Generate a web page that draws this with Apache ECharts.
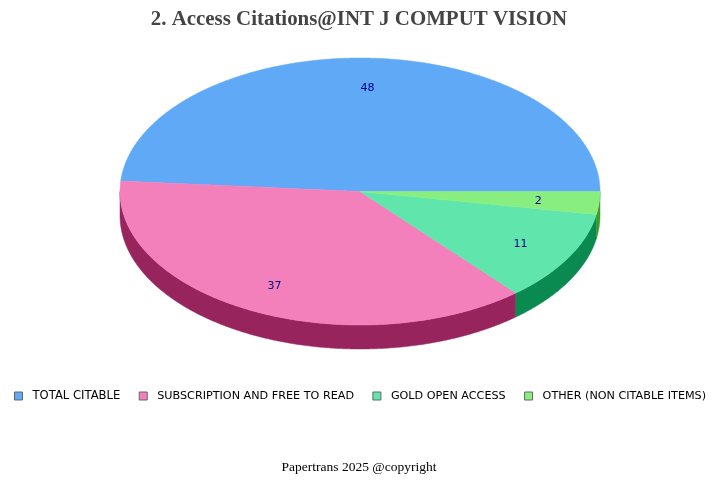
<!DOCTYPE html>
<html><head><meta charset="utf-8">
<style>html,body{margin:0;padding:0;background:#fff}#c{width:720px;height:480px}</style>
<script src="https://cdn.jsdelivr.net/npm/echarts@6/dist/echarts.min.js"></script>
</head><body><div id="c"></div>
<script>
const categories = ['TOTAL CITABLE','SUBSCRIPTION AND FREE TO READ','GOLD OPEN ACCESS','OTHER (NON CITABLE ITEMS)'];
const shares = [48.75, 37.5, 11, 2.75];
const valueLabels = ['48','37','11','2'];
const topColors = ['#5FA9F6','#F480BB','#60E6AC','#88EE80'];
const sideColors = ['#2F6FB5','#98245E','#0A8A50','#3A9A2A'];
const titleText = '2. Access Citations@INT J COMPUT VISION';
const footerText = 'Papertrans 2025 @copyright';

const cx = 360, cy = 191.5, rx = 240, ry = 133.5, depth = 24;
const labelRadii = [0.785, 0.785, 0.77, 0.745];
const legendFontSizes = [11.6, 11.2, 11.2, 11.2];
const total = shares.reduce((a,b)=>a+b,0);
const pt = (deg, k=1, dy=0) => {
  const t = deg*Math.PI/180;
  return [cx + rx*k*Math.cos(t), cy - ry*k*Math.sin(t) + dy];
};
const arc = (a, b, dy=0) => {
  const n = Math.max(2, Math.ceil(Math.abs(b-a)*2)), out = [];
  for (let i=0;i<=n;i++) out.push(pt(a+(b-a)*i/n, 1, dy));
  return out;
};
let acc = 0;
const spans = shares.map(s => { const a = acc/total*360; acc += s; return [a, acc/total*360]; });

const wallSeries = {
  type:'custom', coordinateSystem:'none', silent:true, z:1, animation:false,
  data: spans.map((s,i)=>({value:[s[0],s[1],i]})),
  renderItem(p, api){
    const a = Math.max(api.value(0),180), b = api.value(1), i = api.value(2);
    if (b <= a) return {type:'group',children:[]};
    const pts = arc(a,b).concat(arc(b,a,depth));
    return {type:'polygon', shape:{points:pts}, style:{fill:sideColors[i], stroke:sideColors[i], lineWidth:0.5}};
  }
};
const topSeries = categories.map((name,i)=>({
  name, type:'custom', coordinateSystem:'none', silent:true, z:2, animation:false,
  itemStyle:{color:topColors[i]},
  data:[{value:[spans[i][0],spans[i][1]]}],
  renderItem(p, api){
    const a = api.value(0), b = api.value(1);
    const pts = [[cx,cy]].concat(arc(a,b));
    const m = pt((a+b)/2, labelRadii[i]);
    return {type:'group', children:[
      {type:'polygon', shape:{points:pts}, style:{fill:topColors[i], stroke:topColors[i], lineWidth:0.5}},
      {type:'text', z2:10, x:m[0], y:m[1]+1.5, style:{text:valueLabels[i], fill:'#000080',
        font:'11px "DejaVu Sans"', align:'center', verticalAlign:'middle'}}
    ]};
  }
}));

const chart = echarts.init(document.getElementById('c'), null, {renderer:'canvas'});
chart.setOption({
  animation:false,
  backgroundColor:'#fff',
  title:[
    {text:titleText, left:354, top:4, textAlign:'center',
     textStyle:{fontFamily:'Liberation Serif', fontWeight:'bold', fontSize:20.9, color:'#444'}},
    {text:footerText, left:354, top:455, textAlign:'center',
     textStyle:{fontFamily:'Liberation Serif', fontWeight:'normal', fontSize:13.5, color:'#000'}}
  ],
  legend:{
    left:9, top:390, padding:[0,5], itemWidth:8, itemHeight:8, itemGap:18.4, icon:'rect',
    selectedMode:false,
    data:categories.map((name,i)=>({name, icon:'rect',
      itemStyle:{color:topColors[i], borderColor:'#666', borderWidth:1},
      textStyle:{fontFamily:'DejaVu Sans', fontSize:legendFontSizes[i], color:'#000', padding:[0,0,0,5]}})),
    textStyle:{fontFamily:'DejaVu Sans', fontSize:11.2, color:'#000', padding:[0,0,0,5]}
  },
  series:[wallSeries].concat(topSeries)
});
</script></body></html>
